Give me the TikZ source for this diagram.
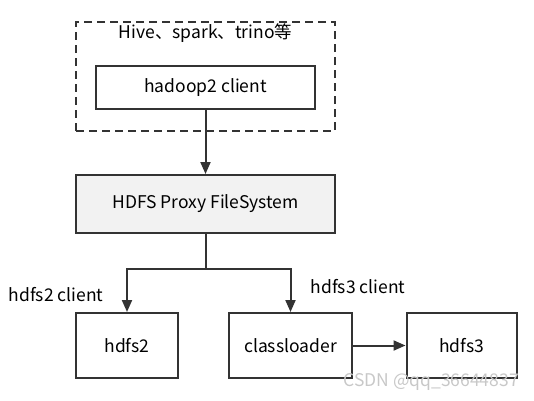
\documentclass[tikz,border=0pt]{standalone}
\usepackage{fontspec}
\setmainfont{Noto Sans CJK SC}
\usetikzlibrary{arrows.meta,positioning}
\definecolor{LineInk}{HTML}{333333}
\definecolor{ProxyFill}{HTML}{F2F2F2}
\definecolor{MarkGray}{HTML}{C8C8C8}

\begin{document}
\begin{tikzpicture}[x=1pt, y=-1pt, >={Triangle[length=12pt,width=10pt]},
  font=\fontsize{17.5}{20}\selectfont,
  box/.style={draw=LineInk, line width=2pt, fill=white, inner sep=0pt},
  link/.style={draw=LineInk, line width=2pt}]
  \useasboundingbox (0,0) rectangle (534,400);

  % Client side: engines using the hadoop2 client.
  \node[draw=LineInk, line width=2pt, dashed, dash pattern=on 8pt off 5pt,
    minimum width=259pt, minimum height=109pt] (apps) at (205.5,76.5) {};
  \node[anchor=north, inner sep=0pt] (appsname) at (205.5,24) {Hive、spark、trino等};
  \node[box, minimum width=219pt, minimum height=43pt] (hadoop) at (205.5,87.5) {hadoop2 client};

  % Proxy file system.
  \node[box, fill=ProxyFill, minimum width=259pt, minimum height=58pt] (proxy) at (205.5,204)
    {HDFS Proxy FileSystem};

  % Back ends.
  \node[box, minimum width=102pt, minimum height=65pt] (hdfs2) at (127,345.5) {hdfs2};
  \node[box, minimum width=123pt, minimum height=65pt] (loader) at (290.5,345.5) {classloader};
  \node[box, minimum width=110pt, minimum height=65pt] (hdfs3) at (461.5,345.5) {hdfs3};

  \coordinate (split) at (205.5,269);
  \draw[link, ->] (hadoop.south) -- (proxy.north);
  \draw[link] (proxy.south) -- (split);
  \draw[link, ->] (split) -| (hdfs2.north);
  \draw[link, ->] (split) -| (loader.north);
  \draw[link, ->] (loader.east) -- (hdfs3.west);

  \node (c2) at (56,295) {hdfs2 client};
  \node (c3) at (358,287) {hdfs3 client};

  \node[text=MarkGray, anchor=east, inner sep=0pt] (mark) at (519,382) {CSDN @qq\_36644837};
\end{tikzpicture}
\end{document}
